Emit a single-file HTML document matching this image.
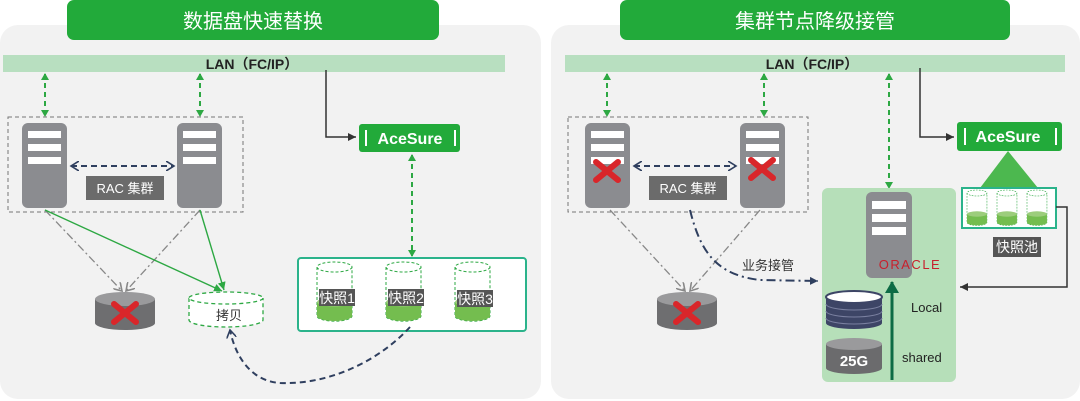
<!DOCTYPE html>
<html><head><meta charset="utf-8"><style>
body{margin:0;background:#fff;}
svg{display:block;font-family:"Liberation Sans","Noto Sans CJK SC",sans-serif;}
</style></head><body>
<svg width="1080" height="401" viewBox="0 0 1080 401" xmlns="http://www.w3.org/2000/svg">
<defs>
<marker id="ag" markerWidth="8" markerHeight="8" refX="6" refY="4" orient="auto-start-reverse" markerUnits="userSpaceOnUse"><path d="M0,0 L7,4 L0,8z" fill="#2da843"/></marker>
<marker id="an" markerWidth="10" markerHeight="10" refX="8" refY="5" orient="auto-start-reverse" markerUnits="userSpaceOnUse"><path d="M0,0 L8,5 L0,10" fill="none" stroke="#2f3f5f" stroke-width="1.6"/></marker>
<marker id="ak" markerWidth="10" markerHeight="10" refX="8" refY="5" orient="auto" markerUnits="userSpaceOnUse"><path d="M0,1 L8,5 L0,9z" fill="#333"/></marker>
<marker id="agr" markerWidth="10" markerHeight="10" refX="8" refY="5" orient="auto" markerUnits="userSpaceOnUse"><path d="M0,0 L8,5 L0,10" fill="none" stroke="#888" stroke-width="1.6"/></marker>
<marker id="agl" markerWidth="10" markerHeight="10" refX="8" refY="5" orient="auto" markerUnits="userSpaceOnUse"><path d="M0,1 L8,5 L0,9z" fill="#2da843"/></marker>
<marker id="ad" markerWidth="10" markerHeight="10" refX="8" refY="5" orient="auto" markerUnits="userSpaceOnUse"><path d="M0,1 L8,5 L0,9z" fill="#2f3f5f"/></marker>
<marker id="adg" markerWidth="14" markerHeight="14" refX="11" refY="7" orient="auto" markerUnits="userSpaceOnUse"><path d="M0,0 L12,7 L0,14z" fill="#0d6b45"/></marker>
<g id="srv"><rect x="0" y="0" width="45" height="85" rx="6" fill="#8b8c90"/><rect x="6" y="8" width="33" height="7" fill="#fff"/><rect x="6" y="21" width="33" height="7" fill="#fff"/><rect x="6" y="34" width="33" height="7" fill="#fff"/></g>
<g id="x"><path d="M-11,-9 L11,9 M11,-9 L-11,9" stroke="#d9262a" stroke-width="6" stroke-linecap="round"/></g>
<g id="disk"><path d="M0,6 v24 a30,7 0 0 0 60,0 v-24z" fill="#6e6e70"/><ellipse cx="30" cy="6" rx="30" ry="7" fill="#9a9a9c"/></g>
<g id="cyl"><path d="M0,5 v49 a17,5 0 0 0 35,0 v-49" fill="#fff" stroke="#2da843" stroke-dasharray="3,2"/><ellipse cx="17.5" cy="5" rx="17.5" ry="5" fill="#fff" stroke="#2da843" stroke-dasharray="3,2"/><path d="M0,40 v14 a17.5,5 0 0 0 35,0 v-14z" fill="#74bd4f"/><ellipse cx="17.5" cy="40" rx="17.5" ry="4.5" fill="#9ccd7c"/></g>
</defs>

<rect x="0" y="25" width="541" height="374" rx="18" fill="#f2f2f2"/>
<rect x="551" y="25" width="529" height="374" rx="18" fill="#f2f2f2"/>
<rect x="67" y="0" width="372" height="40" rx="7" fill="#22aa3a"/>
<text x="253" y="28" font-size="20" fill="#fff" text-anchor="middle">数据盘快速替换</text>
<rect x="620" y="0" width="390" height="40" rx="7" fill="#22aa3a"/>
<text x="815" y="28" font-size="20" fill="#fff" text-anchor="middle">集群节点降级接管</text>
<rect x="3" y="55" width="502" height="17" fill="#b8dfc0"/>
<text x="252" y="69" font-size="14" font-weight="bold" fill="#222" text-anchor="middle">LAN（FC/IP）</text>
<rect x="565" y="55" width="500" height="17" fill="#b8dfc0"/>
<text x="812" y="69" font-size="14" font-weight="bold" fill="#222" text-anchor="middle">LAN（FC/IP）</text>

<g stroke="#2da843" stroke-width="2" stroke-dasharray="5,4" fill="none">
<line x1="45" y1="74" x2="45" y2="116" marker-start="url(#ag)" marker-end="url(#ag)"/>
<line x1="200" y1="74" x2="200" y2="116" marker-start="url(#ag)" marker-end="url(#ag)"/>
<line x1="412" y1="155" x2="412" y2="256" marker-start="url(#ag)" marker-end="url(#ag)"/>
</g>
<rect x="8" y="117" width="235" height="95" fill="none" stroke="#777" stroke-dasharray="4,3"/>
<use href="#srv" x="22" y="123"/><use href="#srv" x="177" y="123"/>
<line x1="71" y1="166" x2="174" y2="166" stroke="#2f3f5f" stroke-width="2" stroke-dasharray="6,4" marker-start="url(#an)" marker-end="url(#an)"/>
<rect x="86" y="176" width="78" height="24" fill="#6b6b6b"/>
<text x="125" y="193" font-size="13" fill="#fff" text-anchor="middle">RAC 集群</text>
<path d="M326,70 V137 H356" stroke="#333" stroke-width="1.5" fill="none" marker-end="url(#ak)"/>
<rect x="359" y="124" width="101" height="28" rx="3" fill="#22aa3a"/>
<line x1="366" y1="130" x2="366" y2="146" stroke="#fff" stroke-width="2"/><line x1="455" y1="130" x2="455" y2="146" stroke="#fff" stroke-width="2"/>
<text x="410" y="144" font-size="16" font-weight="bold" fill="#fff" text-anchor="middle">AceSure</text>
<g stroke="#888" stroke-width="1.3" stroke-dasharray="8,3,2,3" fill="none">
<line x1="45" y1="210" x2="122" y2="291" marker-end="url(#agr)"/>
<line x1="200" y1="210" x2="126" y2="291" marker-end="url(#agr)"/>
</g>
<g stroke="#2da843" stroke-width="1.4" fill="none">
<line x1="45" y1="210" x2="222" y2="291" marker-end="url(#agl)"/>
<line x1="200" y1="210" x2="224" y2="290" marker-end="url(#agl)"/>
</g>
<use href="#disk" x="95" y="293"/><use href="#x" x="125" y="313"/>
<path d="M189,298 v22 a37,7 0 0 0 74,0 v-22" fill="#fff" stroke="#2da843" stroke-dasharray="4,3" stroke-width="1.3"/>
<ellipse cx="226" cy="298" rx="37" ry="6" fill="#fff" stroke="#2da843" stroke-dasharray="4,3" stroke-width="1.3"/>
<text x="229" y="320" font-size="13" fill="#333" text-anchor="middle">拷贝</text>
<rect x="298" y="258" width="228" height="73" rx="3" fill="#fff" stroke="#2bb38b" stroke-width="2"/>
<use href="#cyl" x="317" y="262"/><use href="#cyl" x="386" y="262"/><use href="#cyl" x="455" y="262"/>
<g font-size="14" fill="#fff" text-anchor="middle">
<rect x="319" y="289" width="36" height="17" fill="#555"/><text x="337" y="303">快照1</text>
<rect x="388" y="289" width="36" height="17" fill="#555"/><text x="406" y="303">快照2</text>
<rect x="457" y="290" width="36" height="17" fill="#555"/><text x="475" y="304">快照3</text>
</g>
<path d="M410,327 C380,360 330,385 280,383 C250,381 235,355 230,330" stroke="#2f3f5f" stroke-width="2" stroke-dasharray="6,4" fill="none" marker-end="url(#an)"/>

<g stroke="#2da843" stroke-width="2" stroke-dasharray="5,4" fill="none">
<line x1="607" y1="74" x2="607" y2="116" marker-start="url(#ag)" marker-end="url(#ag)"/>
<line x1="764" y1="74" x2="764" y2="116" marker-start="url(#ag)" marker-end="url(#ag)"/>
<line x1="889" y1="74" x2="889" y2="188" marker-start="url(#ag)" marker-end="url(#ag)"/>
</g>
<rect x="568" y="117" width="240" height="95" fill="none" stroke="#777" stroke-dasharray="4,3"/>
<use href="#srv" x="585" y="123"/><use href="#srv" x="740" y="123"/>
<use href="#x" x="607" y="171"/><use href="#x" x="762" y="169"/>
<line x1="634" y1="166" x2="736" y2="166" stroke="#2f3f5f" stroke-width="2" stroke-dasharray="6,4" marker-start="url(#an)" marker-end="url(#an)"/>
<rect x="649" y="176" width="78" height="24" fill="#6b6b6b"/>
<text x="688" y="193" font-size="13" fill="#fff" text-anchor="middle">RAC 集群</text>
<path d="M920,68 V137 H954" stroke="#333" stroke-width="1.5" fill="none" marker-end="url(#ak)"/>
<rect x="957" y="122" width="105" height="29" rx="3" fill="#22aa3a"/>
<line x1="965" y1="128" x2="965" y2="145" stroke="#fff" stroke-width="2"/><line x1="1056" y1="128" x2="1056" y2="145" stroke="#fff" stroke-width="2"/>
<text x="1008" y="142" font-size="16" font-weight="bold" fill="#fff" text-anchor="middle">AceSure</text>
<polygon points="1008,151 980,188 1038,188" fill="#4cb84f"/>
<rect x="962" y="188" width="94" height="40" fill="#fff" stroke="#2bb38b" stroke-width="2"/>
<g transform="translate(967,190) scale(0.57,0.6)"><use href="#cyl"/></g>
<g transform="translate(997,190) scale(0.57,0.6)"><use href="#cyl"/></g>
<g transform="translate(1027,190) scale(0.57,0.6)"><use href="#cyl"/></g>
<rect x="993" y="237" width="48" height="20" fill="#555"/>
<text x="1017" y="252" font-size="14" fill="#fff" text-anchor="middle">快照池</text>
<path d="M1056,207 H1067 V287 H960" stroke="#333" stroke-width="1.5" fill="none" marker-end="url(#ak)"/>
<g stroke="#888" stroke-width="1.3" stroke-dasharray="8,3,2,3" fill="none">
<line x1="610" y1="210" x2="685" y2="291" marker-end="url(#agr)"/>
<line x1="760" y1="210" x2="690" y2="291" marker-end="url(#agr)"/>
</g>
<use href="#disk" x="657" y="293"/><use href="#x" x="687" y="313"/>
<path d="M690,210 C700,250 715,275 760,280 L818,281" stroke="#2f3f5f" stroke-width="2" stroke-dasharray="9,4,2,4" fill="none" marker-end="url(#ad)"/>
<text x="742" y="270" font-size="13" fill="#333">业务接管</text>
<rect x="822" y="188" width="134" height="194" rx="6" fill="#b6dfb9"/>
<g transform="translate(866,192)"><rect width="46" height="86" rx="6" fill="#8b8c90"/><rect x="6" y="9" width="34" height="8" fill="#fff"/><rect x="6" y="22" width="34" height="8" fill="#fff"/><rect x="6" y="35" width="34" height="8" fill="#fff"/></g>
<text x="910" y="269" font-size="13" fill="#c8202c" text-anchor="middle" letter-spacing="1.5">ORACLE</text>
<g>
<path d="M826,297 v26 a28,6 0 0 0 56,0 v-26z" fill="#3d4566"/>
<path d="M826,304 a28,6 0 0 0 56,0 M826,311 a28,6 0 0 0 56,0 M826,318 a28,6 0 0 0 56,0" stroke="#7a80a0" fill="none"/>
<ellipse cx="854" cy="297" rx="28" ry="6" fill="#fff" stroke="#3d4566" stroke-width="2"/>
</g>
<path d="M826,344 v24 a28,6 0 0 0 56,0 v-24z" fill="#6b6b6d"/>
<ellipse cx="854" cy="344" rx="28" ry="6" fill="#9a9a9c"/>
<text x="854" y="366" font-size="15" font-weight="bold" fill="#fff" text-anchor="middle">25G</text>
<line x1="892" y1="380" x2="892" y2="282" stroke="#0d6b45" stroke-width="3" marker-end="url(#adg)"/>
<text x="911" y="312" font-size="13" fill="#222">Local</text>
<text x="902" y="362" font-size="13" fill="#222">shared</text>
</svg>
</body></html>
